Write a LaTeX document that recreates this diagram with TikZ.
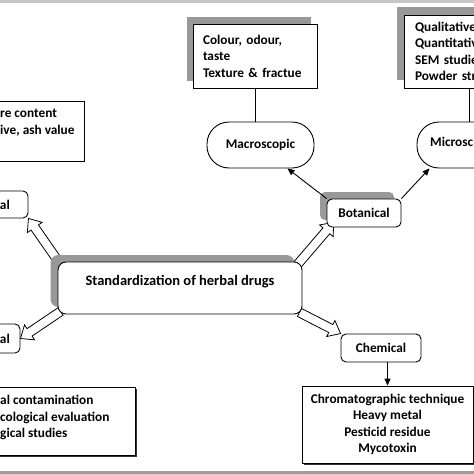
\documentclass[tikz,border=0pt]{standalone}
\usepackage{fontspec}
\setmainfont{Carlito}
\usetikzlibrary{calc,arrows.meta,shadows}
\pgfdeclarelayer{bg}
\pgfsetlayers{bg,main}
\tikzset{
  boxline/.style={draw=black, line width=0.9pt, fill=white},
  plainbox/.style={boxline, rectangle, inner sep=0pt},
  roundbox/.style={boxline, rectangle, rounded corners=5pt, inner sep=0pt},
  stadium/.style={boxline, rectangle, rounded corners=22pt, inner sep=0pt},
  txt/.style={font=\bfseries\fontsize{13.3}{16.5}\selectfont, inner sep=0pt},
  titletxt/.style={font=\bfseries\fontsize{14.5}{16}\selectfont},
  greyshadow/.style 2 args={general shadow={shadow xshift=#1pt, shadow yshift=#2pt, fill=black!40, draw=none}},
  darkshadow/.style={general shadow={shadow xshift=2pt, shadow yshift=-2pt, fill=black!80, draw=none}},
  conn/.style={draw=black, line width=0.9pt},
  arr/.style={conn, -{Triangle[length=7pt,width=6pt]}},
  blockline/.style={draw=black, line width=0.8pt, fill=white, line join=miter}
}
\newcommand{\blockarrow}[2]{%
  \coordinate (ba-a) at (#1);
  \coordinate (ba-b) at (#2);
  \coordinate (ba-c) at ($(ba-b)!11pt!(ba-a)$);
  \draw[blockline] ($(ba-a)!4.5pt!90:(ba-b)$) -- ($(ba-c)!4.5pt!90:(ba-b)$)
    -- ($(ba-c)!9pt!90:(ba-b)$) -- (ba-b) -- ($(ba-c)!9pt!-90:(ba-b)$)
    -- ($(ba-c)!4.5pt!-90:(ba-b)$) -- ($(ba-a)!4.5pt!-90:(ba-b)$) -- cycle;
}
\begin{document}
\begin{tikzpicture}[x=1pt,y=-1pt]
\useasboundingbox (0,0) rectangle (474,474);
\fill[black!22] (0,0) rectangle (474,2.5);
\fill[black!38] (0,470.5) rectangle (474,474);

% main box
\node[roundbox, rounded corners=8pt, greyshadow={-7.5}{7}, minimum width=244pt, minimum height=52pt,
      txt, titletxt, align=center] (main) at (180,288) {Standardization of herbal drugs\\\mbox{}};

% botanical branch
\node[roundbox, txt, greyshadow={-7}{7}, minimum width=74pt, minimum height=28pt] (bot) at (364,213) {Botanical};
\node[stadium, txt, minimum width=107pt, minimum height=46pt] (macro) at (260.5,145) {Macroscopic};
\node[stadium, minimum width=107pt, minimum height=46pt] (micro) at (470.5,145) {};
\node[txt, anchor=west] (microt) at (430,142) {Microsc};
\node[plainbox, txt, greyshadow={-6}{7.5}, minimum width=124pt, minimum height=64pt,
      text width=104pt, align=left] (colour) at (255,56) {Colour, odour,\\taste\\Texture \& fractue};
\node[plainbox, txt, greyshadow={-7}{8}, minimum width=130pt, minimum height=73pt,
      text width=108pt, align=left] (qual) at (469,51.5) {Qualitative\\Quantitativ\\SEM studie\\Powder str};
\draw[conn] (colour.south) -- (colour.south |- macro.north);
\draw[conn] (qual.south) -- (qual.south |- micro.north);
\draw[arr] (bot.north west) -- ($(macro.south)!0.5!(macro.south east)$);
\draw[arr] (bot.north east) -- ($(micro.south west)!0.24!(micro.south)$);

% chemical branch
\node[roundbox, txt, minimum width=80pt, minimum height=28pt] (chem) at (381,348) {Chemical};
\node[plainbox, txt, darkshadow, minimum width=171pt, minimum height=77pt, align=center] (chembox) at (387.5,424.5)
  {Chromatographic technique\\Heavy metal\\Pesticid residue\\Mycotoxin};
\draw[arr] (chembox.north |- chem.south) -- (chembox.north);

% left side (cropped)
\node[plainbox, minimum width=144pt, minimum height=60pt] (phys) at (12,131) {};
\node[txt, anchor=west, align=left] (physt) at (0,122.5) {re content\\ive, ash value};
\node[roundbox, minimum width=78pt, minimum height=27pt] (physn) at (-11,204.5) {};
\node[txt, anchor=east] (physnt) at (10,204.5) {al};
\node[roundbox, minimum width=70pt, minimum height=29pt] (bion) at (-15,338.5) {};
\node[txt, anchor=east] (biont) at (10,338.5) {al};
\node[plainbox, darkshadow, minimum width=200pt, minimum height=68pt] (biobox) at (35,421) {};
\node[txt, anchor=west, align=left] (bioboxt) at (0,417.5) {al contamination\\cological evaluation\\gical studies};

% block arrows
\begin{pgfonlayer}{bg}
\blockarrow{$(main.north west)+(3,3)$}{physn.south east}
\blockarrow{$(main.south west)+(3,-3)$}{bion.east}
\blockarrow{$(main.north east)+(-5,3)$}{$(bot.south west)+(7,-5)$}
\blockarrow{$(main.south east)+(-3,-2)$}{chem.north west}
\end{pgfonlayer}
\end{tikzpicture}
\end{document}
